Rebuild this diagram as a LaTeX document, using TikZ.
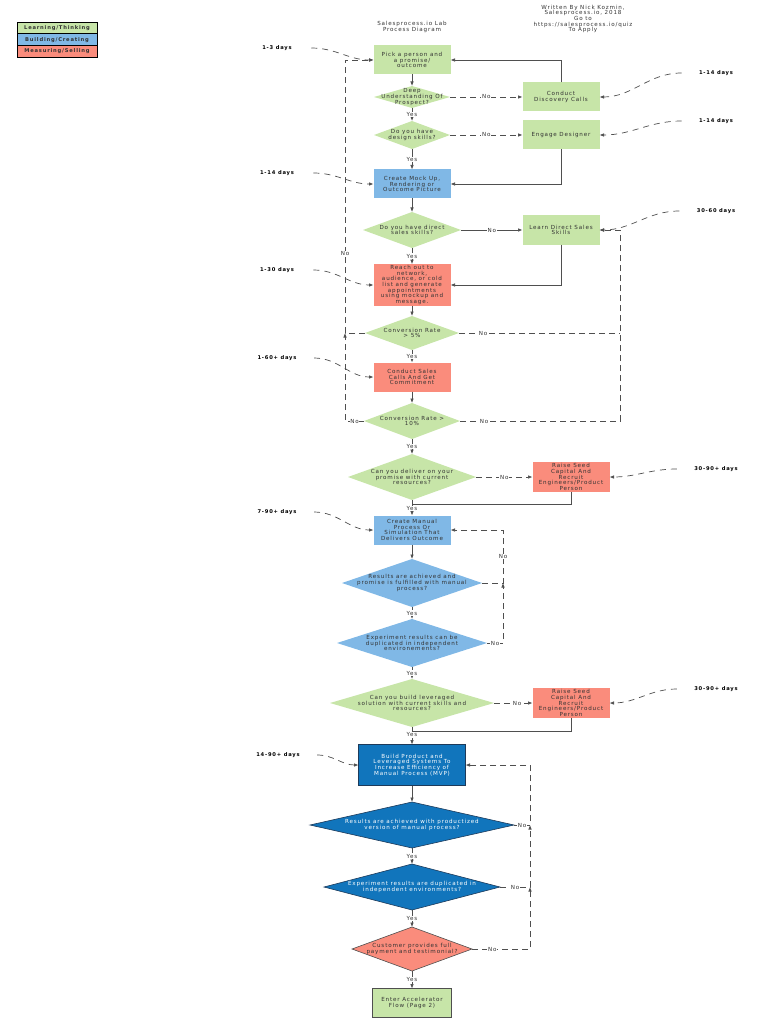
\documentclass[tikz,border=0pt]{standalone}
\usepackage{fontspec}
\setmainfont[LetterSpace=15]{DejaVu Sans}
\usepackage{tikz}
\usetikzlibrary{positioning,shapes.geometric,arrows.meta}
\definecolor{lgreen}{HTML}{C7E5A8}
\definecolor{mblue}{HTML}{80B8E6}
\definecolor{salmon}{HTML}{FA8C7C}
\definecolor{dkblue}{HTML}{1175BC}
\definecolor{dkedge}{HTML}{1D3A5A}
\definecolor{wire}{HTML}{4F4F4F}
\definecolor{ink}{HTML}{333333}

\begin{document}
\begin{tikzpicture}[x=1pt,y=-1pt,
      every node/.style={font=\fontsize{5.6}{5.7}\selectfont,text=ink},
      box/.style={rectangle,minimum width=77pt,minimum height=29pt,inner sep=1pt,outer sep=0pt,align=center},
      dia/.style={diamond,inner sep=0pt,outer sep=0pt},
      dtxt/.style={align=center},
      plain/.style={draw=wire,line width=.7pt},
      flow/.style={plain,-{Latex[length=4.5pt,width=3.6pt]}},
      dline/.style={flow,dash pattern=on 6pt off 4pt},
      lbl/.style={fill=white,inner sep=.6pt},
      days/.style={font=\fontsize{5.2}{5.7}\selectfont\bfseries,text=black},
      lead/.style={flow,dash pattern=on 6pt off 5pt},
      legend/.style={draw=black,line width=.8pt,minimum width=80pt,minimum height=11.7pt,inner sep=0pt,outer sep=0pt,font=\fontsize{5.2}{5.7}\selectfont\bfseries}]
      \useasboundingbox (0,0) rectangle (768,1024);
      % legend and notes
      \node[legend,fill=lgreen] (think) at (57,28) {Learning/Thinking};
      \node[legend,fill=mblue,below=0pt of think] (create) {Building/Creating};
      \node[legend,fill=salmon,below=0pt of create] (sell) {Measuring/Selling};
      \node[align=center] (title) at (412,27) {Salesprocess.io Lab\\Process Diagram};
      \node[align=center] (author) at (583,19) {Written By Nick Kozmin,\\Salesprocess.io, 2018\\Go to\\https://salesprocess.io/quiz\\To Apply};
      % main column
      \node[box,fill=lgreen] (pick) at (412,60) {Pick a person and\\a promise/\\outcome};
      \node[dia,fill=lgreen,minimum width=76pt,minimum height=22pt,label={[dtxt]center:{Deep\\Understanding Of\\Prospect?}}] (deep) at (412,97) {};
      \node[dia,fill=lgreen,minimum width=76pt,minimum height=28pt,label={[dtxt]center:{Do you have\\design skills?}}] (design) at (412,135) {};
      \node[box,fill=mblue] (mock) at (412,184) {Create Mock Up,\\Rendering or\\Outcome Picture};
      \node[dia,fill=lgreen,minimum width=98pt,minimum height=36pt,label={[dtxt]center:{Do you have direct\\sales skills?}}] (sales) at (412,230) {};
      \node[box,fill=salmon,minimum height=39pt] (reach) at (412,285) {Reach out to\\network,\\audience, or cold\\list and generate\\appointments\\using mockup and\\message.};
      \node[dia,fill=lgreen,minimum width=94pt,minimum height=34pt,label={[dtxt]center:{Conversion Rate\\> 5\%}}] (conv5) at (412,333) {};
      \node[box,fill=salmon] (calls) at (412,377) {Conduct Sales\\Calls And Get\\Commitment};
      \node[dia,fill=lgreen,minimum width=96pt,minimum height=36pt,label={[dtxt]center:{Conversion Rate >\\10\%}}] (conv10) at (412,421) {};
      \node[dia,fill=lgreen,minimum width=128pt,minimum height=46pt,label={[dtxt]center:{Can you deliver on your\\promise with current\\resources?}}] (deliver) at (412,477) {};
      \node[box,fill=mblue] (manual) at (412,530) {Create Manual\\Process Or\\Simulation That\\Delivers Outcome};
      \node[dia,fill=mblue,minimum width=140pt,minimum height=48pt,label={[dtxt]center:{Results are achieved and\\promise is fulfilled with manual\\process?}}] (results) at (412,583) {};
      \node[dia,fill=mblue,minimum width=150pt,minimum height=48pt,label={[dtxt]center:{Experiment results can be\\duplicated in independent\\environements?}}] (experiment) at (412,643) {};
      \node[dia,fill=lgreen,minimum width=164pt,minimum height=48pt,label={[dtxt]center:{Can you build leveraged\\solution with current skills and\\resources?}}] (build) at (412,703) {};
      \node[box,fill=dkblue,draw=dkedge,line width=.8pt,text=white,minimum width=107pt,minimum height=41pt] (mvp) at (412,765) {Build Product and\\Leveraged Systems To\\Increase Efficiency of\\Manual Process (MVP)};
      \node[dia,fill=dkblue,draw=dkedge,line width=.6pt,minimum width=204pt,minimum height=46pt,label={[dtxt,text=white]center:{Results are achieved with productized\\version of manual process?}}] (prod) at (412,825) {};
      \node[dia,fill=dkblue,draw=dkedge,line width=.6pt,minimum width=176pt,minimum height=46pt,label={[dtxt,text=white]center:{Experiment results are duplicated in\\independent environments?}}] (dup) at (412,887) {};
      \node[dia,fill=salmon,draw=wire,line width=.6pt,minimum width=120pt,minimum height=44pt,label={[dtxt]center:{Customer provides full\\payment and testimonial?}}] (payment) at (412,949) {};
      \node[box,fill=lgreen,draw=wire,line width=.6pt,minimum width=79pt] (accel) at (412,1003) {Enter Accelerator\\Flow (Page 2)};
      % side boxes
      \node[box,fill=lgreen] (disc) at (561,97) {Conduct\\Discovery Calls};
      \node[box,fill=lgreen] (engage) at (561,135) {Engage Designer};
      \node[box,fill=lgreen] (learn) at (561,230) {Learn Direct Sales\\Skills};
      \node[box,fill=salmon] (raise1) at (571,477) {Raise Seed\\Capital And\\Recruit\\Engineers/Product\\Person};
      \node[box,fill=salmon] (raise2) at (571,703) {Raise Seed\\Capital And\\Recruit\\Engineers/Product\\Person};
      % rails for the loops
      \coordinate (lrail) at (345,0);
      \coordinate (rrail) at (620,0);
      \coordinate (mrail) at (503,0);
      \coordinate (prail) at (530,0);
      \path (deliver.south) -- coordinate[pos=.25] (j1) (manual.north);
      \path (build.south) -- coordinate[pos=.22] (j2) (mvp.north);
      % flow
      \draw[flow] (pick)--(deep); \draw[dline] (deep)--node[lbl]{No}(disc); \draw[flow] (disc.north)|-(pick.east);
      \draw[flow] (deep)--node[lbl]{Yes}(design); \draw[dline] (design)--node[lbl]{No}(engage); \draw[flow] (engage.south)|-(mock.east);
      \draw[flow] (design)--node[lbl]{Yes}(mock); \draw[flow] (mock)--(sales);
      \draw[flow] (sales)--node[lbl]{No}(learn); \draw[flow] (learn.south)|-(reach.east);
      \draw[flow] (sales)--node[lbl]{Yes}(reach); \draw[flow] (reach)--(conv5);
      \draw[flow] (conv5)--node[lbl]{Yes}(calls); \draw[flow] (calls)--(conv10);
      \draw[flow] (conv10)--node[lbl]{Yes}(deliver);
      \draw[dline] (deliver)--node[lbl]{No}(raise1); \draw[plain] (raise1.south)|-(j1);
      \draw[flow] (deliver)--node[lbl,pos=.55]{Yes}(manual); \draw[flow] (manual)--(results);
      \draw[flow] (results)--node[lbl]{Yes}(experiment); \draw[flow] (experiment)--node[lbl]{Yes}(build);
      \draw[dline] (build)--node[lbl,pos=.6]{No}(raise2); \draw[plain] (raise2.south)|-(j2);
      \draw[flow] (build)--node[lbl,pos=.45]{Yes}(mvp); \draw[flow] (mvp)--(prod);
      \draw[flow] (prod)--node[lbl]{Yes}(dup); \draw[flow] (dup)--node[lbl]{Yes}(payment);
      \draw[flow] (payment)--node[lbl]{Yes}(accel);
      % loops
      \draw[dline] (conv10.west)--node[lbl]{No}(conv10.west-|lrail)--(conv5.west-|lrail);
      \draw[dline] (conv5.west)--(conv5.west-|lrail)--node[lbl,pos=.29]{No}(pick.west-|lrail)--(pick.west);
      \draw[dline] (conv10.east)--node[lbl,pos=.15]{No}(conv10.east-|rrail)--(learn.east-|rrail)--(learn.east);
      \draw[plain,dash pattern=on 6pt off 4pt] (conv5.east)--node[lbl,pos=.15]{No}(conv5.east-|rrail);
      \draw[dline] (experiment.east)--node[lbl]{No}(experiment.east-|mrail)--(results.east-|mrail);
      \draw[dline] (results.east)--(results.east-|mrail)--node[lbl]{No}(manual.east-|mrail)--(manual.east);
      \draw[dline] (payment.east)--node[lbl,pos=.35]{No}(payment.east-|prail)--(dup.east-|prail);
      \draw[dline] (dup.east)--node[lbl]{No}(dup.east-|prail)--(prod.east-|prail);
      \draw[dline] (prod.east)--node[lbl]{No}(prod.east-|prail)--(mvp.east-|prail)--(mvp.east);
      % durations
      \node[days] (t1) at (277,48) {1-3 days};
      \node[days] (t2) at (277,173) {1-14 days};
      \node[days] (t3) at (277,270) {1-30 days};
      \node[days] (t4) at (277,358) {1-60+ days};
      \node[days] (t5) at (277,512) {7-90+ days};
      \node[days] (t6) at (278,755) {14-90+ days};
      \node[days] (t7) at (716,73) {1-14 days};
      \node[days] (t8) at (716,121) {1-14 days};
      \node[days] (t9) at (716,211) {30-60 days};
      \node[days] (t10) at (716,469) {30-90+ days};
      \node[days] (t11) at (716,689) {30-90+ days};
      \draw[lead] ([xshift=16pt]t1.east) to[out=0,in=180] (pick.west);
      \draw[lead] ([xshift=16pt]t2.east) to[out=0,in=180] (mock.west);
      \draw[lead] ([xshift=16pt]t3.east) to[out=0,in=180] (reach.west);
      \draw[lead] ([xshift=14pt]t4.east) to[out=0,in=180] (calls.west);
      \draw[lead] ([xshift=14pt]t5.east) to[out=0,in=180] (manual.west);
      \draw[lead] ([xshift=14pt]t6.east) to[out=0,in=180] (mvp.west);
      \draw[lead] ([xshift=-14pt]t7.west) to[out=180,in=0] (disc.east);
      \draw[lead] ([xshift=-14pt]t8.west) to[out=180,in=0] (engage.east);
      \draw[lead] ([xshift=-14pt]t9.west) to[out=180,in=0] (learn.east);
      \draw[lead] ([xshift=-14pt]t10.west) to[out=180,in=0] (raise1.east);
      \draw[lead] ([xshift=-14pt]t11.west) to[out=180,in=0] (raise2.east);
    \end{tikzpicture}
\end{document}
